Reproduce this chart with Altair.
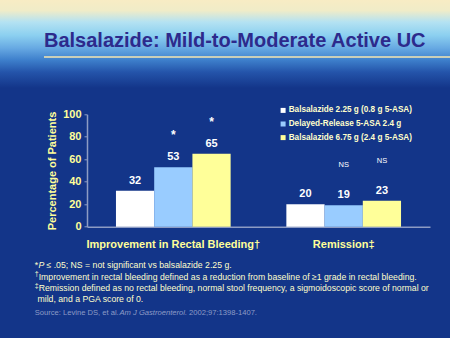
import altair as alt
import pandas as pd

FONT = "Liberation Sans"

groups = ["Improvement in Rectal Bleeding", "Remission"]
series = [
    "Balsalazide 2.25 g (0.8 g 5-ASA)",
    "Delayed-Release 5-ASA 2.4 g",
    "Balsalazide 6.75 g (2.4 g 5-ASA)",
]
bleeding_values = [32, 53, 65]
remission_values = [20, 19, 23]
bleeding_marks = ["", "*", "*"]
remission_marks = ["", "NS", "NS"]
colors = ["#ffffff", "#99ccff", "#ffff99"]
y_ticks = [0, 20, 40, 60, 80, 100]

rows = []
for g, vals, mks in [(groups[0], bleeding_values, bleeding_marks),
                     (groups[1], remission_values, remission_marks)]:
    for s, v, m in zip(series, vals, mks):
        rows.append({"group": g, "series": s, "value": v, "mark": m})
df = pd.DataFrame(rows)

# plot-area origin inside the 450x338 page
OX, OY = 87, 114.3
W, H = 343, 112.4

YEL = "#ffff99"
PALE = "#ffffcc"
AXC = "#8d9cc4"

base = alt.Chart(df).encode(
    x=alt.X("group:N", sort=groups,
            scale=alt.Scale(paddingInner=0.327, paddingOuter=0.17),
            axis=alt.Axis(title=None, ticks=False, labelAngle=0, labelFont=FONT,
                          labelFontSize=11, labelFontWeight="bold", labelColor=YEL,
                          labelPadding=12, domainColor=AXC, domainWidth=1.5,
                          labelExpr="datum.label + (datum.label == 'Remission' ? '\u2021' : '\u2020')")),
    xOffset=alt.XOffset("series:N", sort=series,
                        scale=alt.Scale(paddingInner=0, paddingOuter=0)),
    y=alt.Y("value:Q", scale=alt.Scale(domain=[0, 100]),
            axis=alt.Axis(values=y_ticks, grid=False, tickSize=3, tickColor=AXC,
                          domainColor=AXC, domainWidth=1.5, labelFont=FONT,
                          labelFontSize=11, labelFontWeight="bold", labelColor=YEL,
                          labelPadding=3, title="Percentage of Patients",
                          titleFont=FONT, titleFontSize=11, titleFontWeight="bold",
                          titleColor=YEL, titlePadding=5)),
)

bars = base.mark_bar().encode(
    color=alt.Color("series:N", sort=series,
                    scale=alt.Scale(domain=series, range=colors),
                    legend=alt.Legend(orient="none", legendX=192, legendY=-8,
                                      title=None, symbolType="square", symbolSize=25,
                                      symbolStrokeWidth=0, labelFont=FONT,
                                      labelFontSize=8.2, labelFontWeight="bold",
                                      labelColor=PALE, rowPadding=4.6, labelOffset=1.5,
                                      padding=0, labelLimit=300))
)

value_labels = base.mark_text(dy=-10, baseline="middle", font=FONT, fontSize=11,
                              fontWeight="bold", color="white").encode(text="value:Q")
stars = base.transform_filter("datum.mark == '*'").mark_text(
    dy=-32, baseline="middle", font=FONT, fontSize=12, fontWeight="bold",
    color="white").encode(text="mark:N")
ns = base.transform_filter("datum.mark == 'NS'").mark_text(
    dy=-40, baseline="middle", font=FONT, fontSize=7.5,
    color="white").encode(text="mark:N")

one = alt.Data(values=[{"t": ""}])

grad = alt.Gradient(
    gradient="linear", x1=0, x2=0, y1=0, y2=1,
    stops=[
        alt.GradientStop(offset=0.0, color="#f8ecc4"),
        alt.GradientStop(offset=0.12, color="#f0ecc8"),
        alt.GradientStop(offset=0.25, color="#b4e2f2"),
        alt.GradientStop(offset=0.4, color="#8cd0f0"),
        alt.GradientStop(offset=0.55, color="#66a8e2"),
        alt.GradientStop(offset=0.68, color="#3e80cc"),
        alt.GradientStop(offset=0.82, color="#2454aa"),
        alt.GradientStop(offset=1.0, color="#133589"),
    ],
)
header = alt.Chart(one).mark_rect(color=grad).encode(
    x=alt.value(-OX), x2=alt.value(450 - OX),
    y=alt.value(-OY), y2=alt.value(88 - OY))

underline = alt.Chart(one).mark_rule(color="#f6e6b0", strokeWidth=1.5).encode(
    x=alt.value(44 - OX), x2=alt.value(450 - OX), y=alt.value(57 - OY))


def txt(text, x, y, size, color, weight="normal", style="normal", align="left"):
    return alt.Chart(alt.Data(values=[{"t": text}])).mark_text(
        align=align, baseline="middle", font=FONT, fontSize=size,
        fontWeight=weight, fontStyle=style, color=color).encode(
        x=alt.value(x - OX), y=alt.value(y - OY), text="t:N")


title = txt("Balsalazide: Mild-to-Moderate Active UC", 44, 40.5, 20, "#2d2a8c", weight="bold")

FN = 8.7
SRC = "#8d9cc6"
foot = [
    txt("*", 34.7, 265.3, FN, PALE),
    txt("P", 38.5, 265.3, FN, PALE, style="italic"),
    txt("\u2264 .05; NS = not significant vs balsalazide 2.25 g.", 46.5, 265.3, FN, PALE),
    txt("\u2020", 34.7, 274.3, 7, PALE),
    txt("Improvement in rectal bleeding defined as a reduction from baseline of \u22651 grade in rectal bleeding.",
        38.7, 276.5, FN, PALE),
    txt("\u2021", 34.7, 285.5, 7, PALE),
    txt("Remission defined as no rectal bleeding, normal stool frequency, a sigmoidoscopic score of normal or",
        38.7, 287.7, FN, PALE),
    txt("mild, and a PGA score of 0.", 37.5, 299, FN, PALE),
    txt("Source: Levine DS, et al.", 34.7, 313, 7.6, SRC),
    txt("Am J Gastroenterol.", 119.5, 313, 7.6, SRC, style="italic"),
    txt("2002;97:1398-1407.", 189, 313, 7.6, SRC),
]

chart = alt.layer(header, underline, title, bars, value_labels, stars, ns, *foot).properties(
    width=W, height=H,
    padding={"left": OX, "top": OY, "right": 450 - OX - W, "bottom": 338 - OY - H},
    autosize=alt.AutoSizeParams(type="none"),
).configure(background="#133589").configure_view(stroke=None)

chart.save("out.html", embed_options={"renderer": "svg", "actions": False})
